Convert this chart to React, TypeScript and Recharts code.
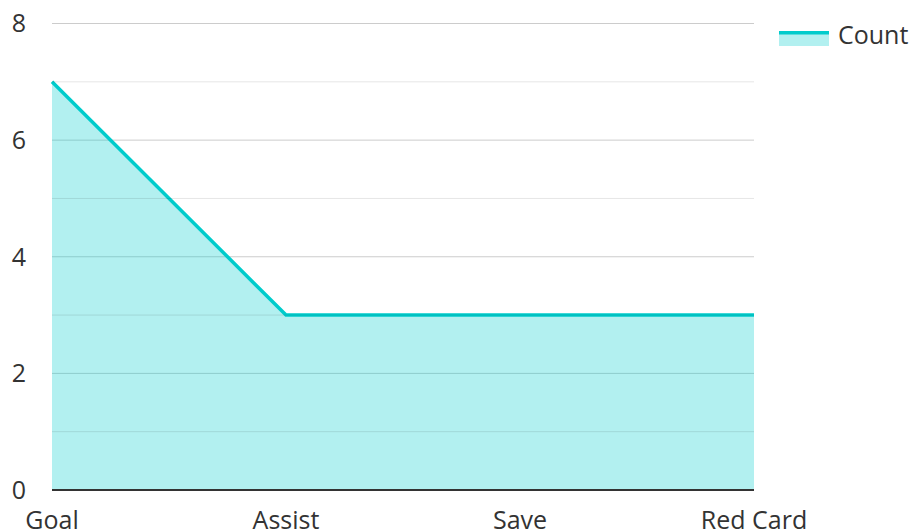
import React from 'react';
import { AreaChart, Area, XAxis, YAxis, CartesianGrid, ReferenceLine, Legend } from 'recharts';

const categories = ['Goal', 'Assist', 'Save', 'Red Card'];
const counts = [7, 3, 3, 3];
const yTicks = [0, 2, 4, 6, 8];
const minorTicks = [1, 3, 5, 7];
const seriesName = 'Count';

const data = categories.map((name, i) => ({ name, [seriesName]: counts[i] }));

const LINE = '#00cccc';
const FILL = '#b2f0f0';
const FONT = '"Open Sans", sans-serif';

const LegendContent = (props: any) => {
  const items = props.payload || [];
  return (
    <div style={{ fontFamily: FONT }}>
      {items.map((item: any) => (
        <div key={item.value} style={{ display: 'flex', alignItems: 'center', height: 24 }}>
          <svg width={50} height={15} style={{ marginTop: 8 }}>
            <rect x={0} y={0} width={50} height={15} fill={FILL} />
            <rect x={0} y={0} width={50} height={3.5} fill={LINE} />
          </svg>
          <span style={{ marginLeft: 9, fontSize: 25, color: '#333', lineHeight: '24px' }}>{item.value}</span>
        </div>
      ))}
    </div>
  );
};

const App: React.FC = () => {
  return (
    <div style={{ width: 912, height: 531, fontFamily: FONT, position: 'relative' }}>
      <style>{'body{margin:0}'}</style>
      <AreaChart
        width={912}
        height={531}
        data={data}
        margin={{ top: 23.5, right: 158, bottom: 0, left: 0 }}
      >
        <CartesianGrid horizontal vertical={false} stroke="#cccccc" strokeWidth={1} />
        {minorTicks.map(v => (
          <ReferenceLine key={v} y={v} stroke="#000" strokeOpacity={0.1} strokeWidth={1} />
        ))}
        <XAxis
          dataKey="name"
          height={41}
          axisLine={{ stroke: '#333', strokeWidth: 2 }}
          tickLine={false}
          tickSize={0}
          tickMargin={21}
          interval={0}
          tick={{ fill: '#333', fontSize: 25, fontFamily: FONT }}
        />
        <YAxis
          width={52}
          domain={[0, 8]}
          ticks={yTicks}
          axisLine={false}
          tickLine={false}
          tickSize={0}
          tickMargin={26}
          tick={{ fill: '#333', fontSize: 25, fontFamily: FONT }}
        />
        <Legend
          layout="vertical"
          align="center"
          verticalAlign="middle"
          content={<LegendContent />}
          wrapperStyle={{ position: 'absolute', left: 779, top: 22, width: 130, height: 30 }}
        />
        <Area
          type="linear"
          dataKey={seriesName}
          name={seriesName}
          stroke={LINE}
          strokeWidth={3.5}
          fill={LINE}
          fillOpacity={0.3}
          dot={false}
          activeDot={false}
          isAnimationActive={false}
        />
      </AreaChart>
    </div>
  );
};

export default App;
